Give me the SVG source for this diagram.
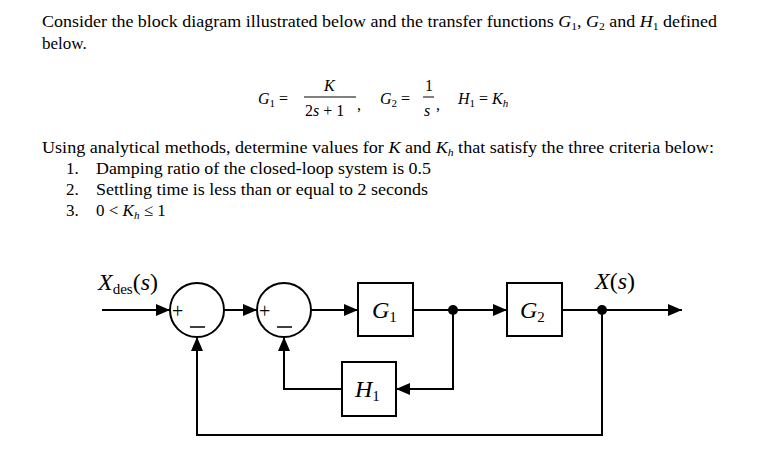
<svg xmlns="http://www.w3.org/2000/svg" width="763" height="460" viewBox="0 0 763 460">
<style>
.t{font-family:"Liberation Serif",serif;font-size:17px;fill:#000}
.m{font-family:"Liberation Serif",serif;font-size:16px;font-style:italic;fill:#000}
.b{font-family:"Liberation Serif",serif;font-size:24px;font-style:italic;fill:#000}
.s{font-size:15px;font-style:normal}
.box{fill:#fff;stroke:#000;stroke-width:2}
.ln{fill:none;stroke:#000;stroke-width:2}
</style>
<defs><marker id="a" markerWidth="10" markerHeight="10" refX="9" refY="5" orient="auto" markerUnits="userSpaceOnUse" viewBox="0 0 10 10"><path d="M0,0 L10,5 L0,10 z" fill="#000"/></marker>
<marker id="a2" markerWidth="14" markerHeight="12" refX="14" refY="6" orient="auto" markerUnits="userSpaceOnUse"><path d="M0,0 L14,6 L0,12 z" fill="#000"/></marker></defs>
<rect width="763" height="460" fill="#fff"/>
<text class="t" x="42" y="27" textLength="675" lengthAdjust="spacingAndGlyphs">Consider the block diagram illustrated below and the transfer functions <tspan font-style="italic">G</tspan><tspan font-size="11" dy="3">1</tspan><tspan dy="-3">, </tspan><tspan font-style="italic">G</tspan><tspan font-size="11" dy="3">2</tspan><tspan dy="-3"> and </tspan><tspan font-style="italic">H</tspan><tspan font-size="11" dy="3">1</tspan><tspan dy="-3"> defined</tspan></text>
<text class="t" x="42" y="49">below.</text>
<g class="m">
<text x="258" y="104">G<tspan font-size="11" font-style="normal" dy="3">1</tspan><tspan dy="-3" font-style="normal"> =</tspan></text>
<text x="324" y="91">K</text>
<line x1="304" y1="97" x2="356" y2="97" stroke="#000" stroke-width="1"/>
<text x="305" y="116" font-style="normal">2<tspan font-style="italic">s</tspan> + 1</text>
<text x="357" y="110" font-style="normal">,</text>
<text x="380" y="104">G<tspan font-size="11" font-style="normal" dy="3">2</tspan><tspan dy="-3" font-style="normal"> =</tspan></text>
<text x="425" y="91" font-style="normal">1</text>
<line x1="423" y1="97" x2="434" y2="97" stroke="#000" stroke-width="1"/>
<text x="424" y="116">s</text>
<text x="436" y="110" font-style="normal">,</text>
<text x="458" y="104">H<tspan font-size="11" font-style="normal" dy="3">1</tspan><tspan dy="-3" font-style="normal"> = </tspan>K<tspan font-size="11" dy="3">h</tspan></text>
</g>
<text class="t" x="42" y="153" textLength="672" lengthAdjust="spacingAndGlyphs">Using analytical methods, determine values for <tspan font-style="italic">K</tspan> and <tspan font-style="italic">K</tspan><tspan font-style="italic" font-size="11" dy="3">h</tspan><tspan dy="-3"> that satisfy the three criteria below:</tspan></text>
<text class="t" x="66" y="174">1.</text><text class="t" x="96" y="174" textLength="335" lengthAdjust="spacingAndGlyphs">Damping ratio of the closed-loop system is 0.5</text>
<text class="t" x="66" y="195">2.</text><text class="t" x="96" y="195" textLength="332" lengthAdjust="spacingAndGlyphs">Settling time is less than or equal to 2 seconds</text>
<text class="t" x="66" y="216">3.</text><text class="t" x="96" y="216">0 &lt; <tspan font-style="italic">K</tspan><tspan font-style="italic" font-size="11" dy="3">h</tspan><tspan dy="-3"> ≤ 1</tspan></text>
<g id="connectors" class="ln">
<line x1="102" y1="310" x2="170" y2="310" marker-end="url(#a2)"/>
<line x1="224" y1="310" x2="257" y2="310" marker-end="url(#a2)"/>
<line x1="311" y1="310" x2="358" y2="310" marker-end="url(#a2)"/>
<line x1="413" y1="310" x2="507" y2="310" marker-end="url(#a2)"/>
<line x1="562" y1="310" x2="682" y2="310" marker-end="url(#a2)"/>
<polyline points="453,310 453,389 396,389" marker-end="url(#a2)"/>
<polyline points="342,389 284,389 284,337" marker-end="url(#a2)"/>
<polyline points="602,310 602,435 197,435 197,337" marker-end="url(#a2)"/>
</g>
<g id="sum1"><circle cx="197" cy="310" r="27" class="box"/><text x="172" y="318" font-family="Liberation Serif" font-size="20" fill="#000">+</text><line x1="190" y1="327" x2="205" y2="327" stroke="#000" stroke-width="1.5"/></g>
<g id="sum2"><circle cx="284" cy="310" r="27" class="box"/><text x="259" y="318" font-family="Liberation Serif" font-size="20" fill="#000">+</text><line x1="277" y1="327" x2="292" y2="327" stroke="#000" stroke-width="1.5"/></g>
<g id="G1"><rect x="358" y="283" width="55" height="53" class="box"/><text class="b" x="372" y="318">G<tspan class="s" dy="4">1</tspan></text></g>
<g id="G2"><rect x="507" y="283" width="55" height="53" class="box"/><text class="b" x="520" y="318">G<tspan class="s" dy="4">2</tspan></text></g>
<g id="H1"><rect x="342" y="362" width="54" height="54" class="box"/><text class="b" x="355" y="397">H<tspan class="s" dy="4">1</tspan></text></g>
<circle cx="453" cy="310" r="5"/><circle cx="602" cy="310" r="5"/>
<text class="b" x="98" y="290">X<tspan class="s" font-style="italic" dy="4">des</tspan><tspan dy="-4" font-style="normal">(</tspan>s<tspan font-style="normal">)</tspan></text>
<text class="b" x="595" y="289">X<tspan font-style="normal">(</tspan>s<tspan font-style="normal">)</tspan></text>
</svg>
